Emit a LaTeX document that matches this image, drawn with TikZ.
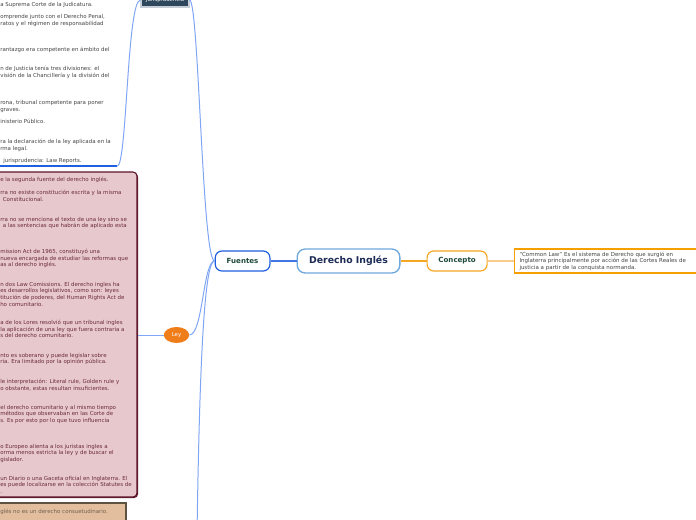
\documentclass[tikz,border=0pt]{standalone}
\usepackage{fontspec}
\setmainfont{DejaVu Sans}
\usepackage{tikz}
\usetikzlibrary{positioning,fit,shapes.geometric,shadows}
\definecolor{mapblue}{HTML}{1F5FE0}
\definecolor{linkblue}{HTML}{7FA5F5}
\definecolor{rootblue}{HTML}{6FA8DC}
\definecolor{rootink}{HTML}{1C2B55}
\definecolor{topicink}{HTML}{1E4A3C}
\definecolor{mapgold}{HTML}{F5A623}
\definecolor{palegold}{HTML}{F8CB8E}
\definecolor{boxgold}{HTML}{F5A000}
\definecolor{juryslate}{HTML}{2E475C}
\definecolor{juryedge}{HTML}{C5CED6}
\definecolor{leyorange}{HTML}{EE7D1A}
\definecolor{leypink}{HTML}{E7C8CD}
\definecolor{leymaroon}{HTML}{5C1428}
\definecolor{leyink}{HTML}{6A2A3A}
\definecolor{tanfill}{HTML}{E3BE9E}
\definecolor{tanedge}{HTML}{5E5240}
\definecolor{tanink}{HTML}{6E6150}
\definecolor{leafgray}{HTML}{444444}
\tikzset{
    root/.style={rounded corners=6pt,draw=rootblue,line width=1pt,fill=white,text=rootink,
        font=\fontsize{7}{8}\selectfont\bfseries,minimum width=77pt,minimum height=18pt},
    topic/.style={rounded corners=5pt,line width=0.9pt,fill=white,text=topicink,
        font=\fontsize{5.3}{6}\selectfont\bfseries,minimum height=15pt},
    subtopic/.style={draw=juryedge,line width=0.8pt,fill=juryslate,text=white,
        font=\fontsize{4}{5}\selectfont,minimum width=36pt,minimum height=10.5pt},
    leynode/.style={ellipse,fill=leyorange,text=white,font=\fontsize{4}{5}\selectfont,
        minimum width=19pt,minimum height=12pt,inner sep=0pt},
    leaf/.style={anchor=north west,inner sep=0pt,align=left,
        font=\fontsize{4.1}{5}\selectfont,text=leafgray},
    leyleaf/.style={leaf,text=leyink,font=\fontsize{4.1}{4.9}\selectfont},
    leybox/.style={rounded corners=3pt,draw=leymaroon,line width=0.8pt,fill=leypink,inner sep=0pt,
        drop shadow={shadow xshift=0.8pt,shadow yshift=-0.8pt,fill=leymaroon,opacity=1}},
    tanbox/.style={draw=tanedge,line width=1.3pt,fill=tanfill,inner sep=0pt},
    notebox/.style={draw=boxgold,line width=1.2pt,fill=white,align=left,text width=140pt,
        inner xsep=3.75pt,inner ysep=2pt,font=\fontsize{4.1}{4.9}\selectfont,text=leafgray},
    link/.style={draw=linkblue,line width=0.75pt},
}

\begin{document}
\begin{tikzpicture}[x=0.75pt,y=-0.75pt,node distance=19.5pt]
    \useasboundingbox (0,0) rectangle (696,520);
    \clip (0,0) rectangle (696,520);

    % groups of leaves
    \node[fit={(-10,-12) (117,166)},inner sep=0pt] (jurgroup) {};
    \draw[mapblue,line width=1.3pt] (jurgroup.south west) -- (jurgroup.south east);
    \node[leybox,fit={(-10,172) (137,497)}] (leygroup) {};
    \node[tanbox,fit={(-10,503) (126,540)}] (tangroup) {};

    % topics
    \node[root] (root) at (348.5,261) {Derecho Inglés};
    \node[topic,draw=mapblue,minimum width=41pt,left=of root] (fuentes) {Fuentes};
    \node[topic,draw=mapgold,minimum width=45pt,right=of root] (concepto) {Concepto};
    \node[notebox,right=of concepto] (common) {“Common Law” Es el sistema de Derecho que surgió en\\
        Inglaterra principalmente por acción de las Cortes Reales de\\
        justicia a partir de la conquista normanda.};
    \node[subtopic] (jur) at (165,0) {Jurisprudencia};
    \node[leynode] (ley) at (176.5,335) {Ley};
    \coordinate (fbot) at (197,535);

    \draw[link] (fuentes.west) .. controls (202,261) and (199,0) .. (jur.east);
    \draw[link] (fuentes.west) .. controls (203,261) and (203,335) .. (ley.east);
    \draw[link] (fuentes.west) .. controls (206,261) and (200,330) .. (fbot);
    \draw[link] (jur.west) .. controls (127,0) and (127,166) .. (jurgroup.south east);
    \draw[link] (ley.west) -- (ley.west -| leygroup.east);
    \draw[mapblue!85,line width=0.8pt] (root.west) -- (fuentes.east);
    \draw[mapgold,line width=0.8pt] (root.east) -- (concepto.west);
    \draw[palegold,line width=0.8pt] (concepto.east) -- (common.west);

    % jurisprudencia
    \node[leaf] (j1) at (0,2) {a Suprema Corte de la Judicatura.};
    \node[leaf] (j2) at (0,14) {omprende junto con el Derecho Penal,\\ratos y el régimen de responsabilidad};
    \node[leaf] (j3) at (0,47) {rantazgo era competente en ámbito del};
    \node[leaf] (j4) at (0,66) {n de Justicia tenía tres divisiones: el\\visión de la Chancillería y la división del};
    \node[leaf] (j5) at (0,100) {rona, tribunal competente para poner\\graves.};
    \node[leaf] (j6) at (0,119) {inisterio Público.};
    \node[leaf] (j7) at (0,139) {ra la declaración de la ley aplicada en la\\rma legal.};
    \node[leaf] (j8) at (3,158) {jurisprudencia: Law Reports.};

    % ley
    \node[leyleaf] (p1) at (0,177) {e la segunda fuente del derecho inglés.};
    \node[leyleaf] (p2) at (0,190) {rra no existe constitución escrita y la misma\\\hspace*{2pt}Constitucional.};
    \node[leyleaf] (p3) at (0,217) {rra no se menciona el texto de una ley sino se\\\hspace*{2pt}a las sentencias que habrán de aplicado esta};
    \node[leyleaf] (p4) at (0,249) {mission Act de 1965, constituyó una\\nueva encargada de estudiar las reformas que\\as al derecho inglés.};
    \node[leyleaf] (p5) at (0,282) {n dos Law Comissions. El derecho ingles ha\\es desarrollos legislativos, como son: leyes\\titución de poderes, del Human Rights Act de\\ho comunitario.};
    \node[leyleaf] (p6) at (0,320) {a de los Lores resolvió que un tribunal ingles\\la aplicación de una ley que fuera contraria a\\s del derecho comunitario.};
    \node[leyleaf] (p7) at (0,353) {nto es soberano y puede legislar sobre\\ria. Era limitado por la opinión pública.};
    \node[leyleaf] (p8) at (0,379) {le interpretación: Literal rule, Golden rule y\\o obstante, estas resultan insuficientes.};
    \node[leyleaf] (p9) at (0,405) {el derecho comunitario y al mismo tiempo\\métodos que observaban en las Corte de\\s. Es por esto por lo que tuvo influencia};
    \node[leyleaf] (p10) at (0,444) {o Europeo alienta a los juristas ingles a\\orma menos estricta la ley y de buscar el\\gislador.};
    \node[leyleaf] (p11) at (0,476) {un Diario o una Gaceta oficial en Inglaterra. El\\es puede localizarse en la colección Statutes de\\.};

    \node[leaf,text=tanink] (t1) at (0,509) {glés no es un derecho consuetudinario.};
\end{tikzpicture}
\end{document}
